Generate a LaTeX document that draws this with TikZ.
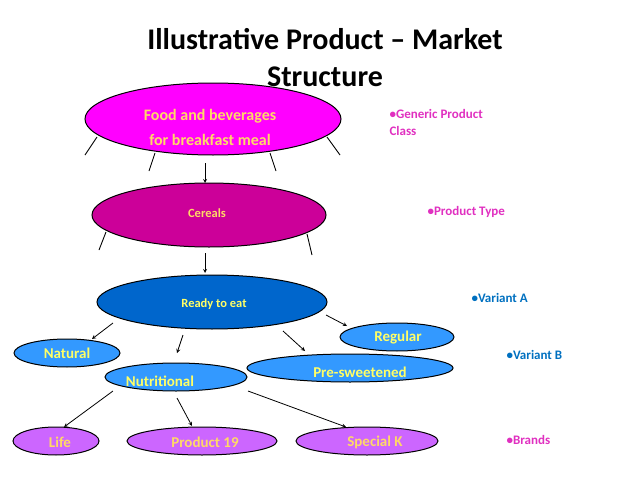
\documentclass[tikz,border=0pt]{standalone}
\usepackage{fontspec}
\setmainfont{Carlito}
\begin{document}
\begin{tikzpicture}[x=1pt,y=-1pt,
 ar/.style={-stealth,line width=0.8pt},
 tk/.style={line width=0.9pt},
 sm/.style={line width=1pt},
 big/.style={font=\bfseries\fontsize{15}{18}\selectfont},
 mid/.style={font=\bfseries\fontsize{12.5}{15}\selectfont},
 lab/.style={anchor=west,font=\bfseries\fontsize{13}{17}\selectfont,align=left}]
\useasboundingbox (0,0) rectangle (638,479);
\definecolor{txo}{HTML}{FFD966}\definecolor{txy}{HTML}{FFFF66}
\definecolor{fmag}{HTML}{FF00FF}
\definecolor{cer}{HTML}{CC0099}\definecolor{rdy}{HTML}{0066CC}
\definecolor{lb}{HTML}{3399FF}\definecolor{pur}{HTML}{CC66FF}
\definecolor{mag}{HTML}{E030C0}\definecolor{blu}{HTML}{0070C0}
\node[font=\bfseries\fontsize{30}{37}\selectfont,align=center] (title) at (325,58) {Illustrative Product -- Market\\Structure};
\draw[fill=fmag,line width=1pt] (213,119) ellipse [x radius=128,y radius=36];
\node[text=txo,font=\bfseries\fontsize{16}{25}\selectfont,align=center] (food) at (210,127) {Food and beverages\\for breakfast meal};
\draw[tk] (97,137)--(85,155) (155,153)--(149,171) (270,153)--(276,171) (327,137)--(340,155);
\draw[fill=cer,line width=1pt] (209,215) ellipse [x radius=117,y radius=32];
\node[text=txo,mid] (cer) at (207,213) {Cereals};
\draw[tk] (106,232)--(99,250) (307,234)--(312,255);
\draw[ar] (205,163)--(205,183);
\draw[ar] (205,253)--(205,273);
\draw[fill=rdy,line width=1pt] (212,302) ellipse [x radius=115,y radius=27];
\node[text=txy,mid] (rdy) at (214,304) {Ready to eat};
\draw[sm,fill=lb] (67,353) ellipse [x radius=53,y radius=14];
\node[text=txy,big] (nat) at (67,353) {Natural};
\draw[sm,fill=lb] (397,337) ellipse [x radius=57,y radius=14];
\node[text=txy,big] (reg) at (398,338) {Regular};
\draw[sm,fill=lb] (176,377) ellipse [x radius=71,y radius=14];
\node[text=txy,big] (nut) at (160,381) {Nutritional};
\draw[sm,fill=lb] (350,368) ellipse [x radius=103,y radius=14];
\node[text=txy,big] (pre) at (360,372) {Pre-sweetened};
\draw[sm,fill=pur] (56,441) ellipse [x radius=43,y radius=14];
\node[text=txo,big] (life) at (60,442) {Life};
\draw[sm,fill=pur] (202,441) ellipse [x radius=75,y radius=14];
\node[text=txo,big] (p19) at (205,442) {Product 19};
\draw[sm,fill=pur] (367,441) ellipse [x radius=71,y radius=14];
\node[text=txo,big] (spk) at (375,442) {Special K};
\draw[ar] (113,323)--(92,339);
\draw[ar] (183,335)--(177,353);
\draw[ar] (283,331)--(305,351);
\draw[ar] (326,315)--(347,326);
\draw[ar] (113,391)--(64,427);
\draw[ar] (177,398)--(192,426);
\draw[ar] (248,391)--(346,427);
\node[lab,text=mag] (l1) at (386,122) {•Generic Product\\Class};
\node[lab,text=mag] (l2) at (424,212) {•Product Type};
\node[lab,text=blu] (l3) at (468,298) {•Variant A};
\node[lab,text=blu] (l4) at (503,355) {•Variant B};
\node[lab,text=mag] (l5) at (503,440) {•Brands};
\end{tikzpicture}
\end{document}
